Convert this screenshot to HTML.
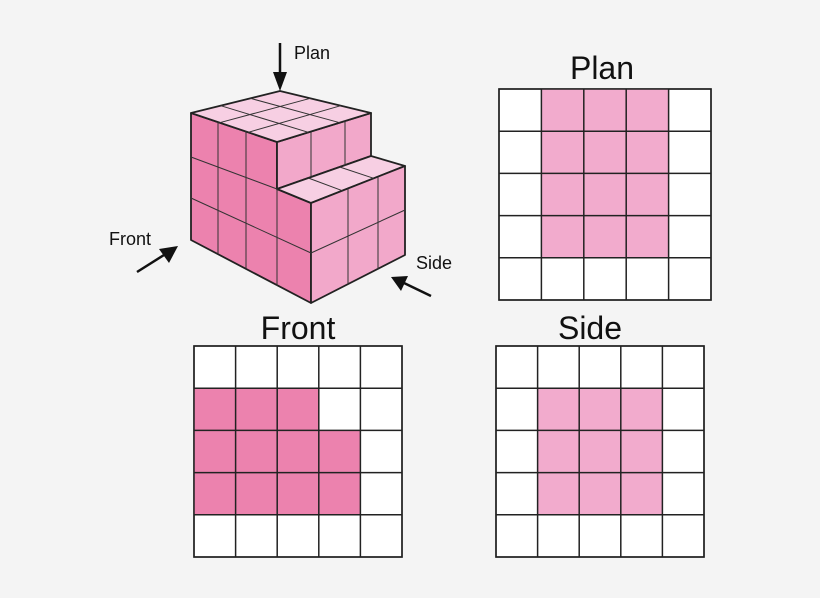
<!DOCTYPE html>
<html><head><meta charset="utf-8"><style>
html,body{margin:0;padding:0;background:#f4f4f4;}
svg{display:block;}
text{font-family:"Liberation Sans",sans-serif;fill:#111;}
</style></head><body>
<svg width="820" height="598" viewBox="0 0 820 598" xmlns="http://www.w3.org/2000/svg">
<rect width="820" height="598" fill="#f4f4f4"/>
<!-- Plan grid -->
<g stroke="#222" stroke-width="1.5">
<rect x="499" y="89" width="212" height="211" fill="#fff"/>
<rect x="541.4" y="89" width="127.2" height="168.8" fill="#f2abcd" stroke="none"/>
<path d="M541.4 89V300M583.8 89V300M626.2 89V300M668.6 89V300M499 131.2H711M499 173.4H711M499 215.6H711M499 257.8H711" fill="none"/>
<rect x="499" y="89" width="212" height="211" fill="none"/>
</g>
<!-- Front grid -->
<g stroke="#222" stroke-width="1.5">
<rect x="194" y="346" width="208" height="211" fill="#fff"/>
<path d="M194 388.2H318.8V430.4H360.4V514.8H194Z" fill="#ec82ae" stroke="none"/>
<path d="M235.6 346V557M277.2 346V557M318.8 346V557M360.4 346V557M194 388.2H402M194 430.4H402M194 472.6H402M194 514.8H402" fill="none"/>
<rect x="194" y="346" width="208" height="211" fill="none"/>
</g>
<!-- Side grid -->
<g stroke="#222" stroke-width="1.5">
<rect x="496" y="346" width="208" height="211" fill="#fff"/>
<rect x="537.6" y="388.2" width="124.8" height="126.6" fill="#f2abcd" stroke="none"/>
<path d="M537.6 346V557M579.2 346V557M620.8 346V557M662.4 346V557M496 388.2H704M496 430.4H704M496 472.6H704M496 514.8H704" fill="none"/>
<rect x="496" y="346" width="208" height="211" fill="none"/>
</g>
<!-- Titles -->
<text x="602" y="79" font-size="32" text-anchor="middle">Plan</text>
<text x="298" y="339" font-size="32" text-anchor="middle">Front</text>
<text x="590" y="339" font-size="32" text-anchor="middle">Side</text>
<!-- Cube -->
<g stroke="#222" stroke-linejoin="round">
<path d="M191 113L277 142L277 189L311 203L311 303L191 240Z" fill="#ec82ae" stroke-width="1.8"/>
<path d="M277 142L371 113L371 156L277 189Z" fill="#f2a8ca" stroke-width="1.8"/>
<path d="M277 189L371 156L405 166L311 203Z" fill="#f7cfe3" stroke-width="1.8"/>
<path d="M311 203L405 166L405 255L311 303Z" fill="#f2a8ca" stroke-width="1.8"/>
<path d="M191 113L280 91L371 113L277 142Z" fill="#f7cfe3" stroke-width="1.8"/>
<g stroke-width="1" fill="none" stroke="#333">
<path d="M220.7 105.7L308.3 132.3M250.3 98.3L339.7 122.7M219.7 122.7L310.3 98.3M248.3 132.3L340.7 105.7"/>
<path d="M218 122L218 254M246 131L246 268M191 157L277 189M191 198L311 253M277 189L277 286"/>
<path d="M311 132V177M345 121V166"/>
<path d="M308.3 178L342.3 190.7M339.7 167L373.7 178.3"/>
<path d="M348 188.5V284M378 177V269M311 253L405 210"/>
</g>
</g>
<!-- Arrows -->
<g stroke="#111" stroke-width="2.5" fill="#111">
<line x1="280" y1="43" x2="280" y2="75"/>
<path d="M273 72L287 72L280 91Z" stroke="none"/>
<line x1="137" y1="272" x2="164" y2="255"/>
<path d="M159 249L169 263L178 246Z" stroke="none"/>
<line x1="431" y1="296" x2="404" y2="283"/>
<path d="M408 276L401 291L391 277Z" stroke="none"/>
</g>
<text x="294" y="59" font-size="18">Plan</text>
<text x="109" y="245" font-size="18">Front</text>
<text x="416" y="269" font-size="18">Side</text>
</svg>
</body></html>
